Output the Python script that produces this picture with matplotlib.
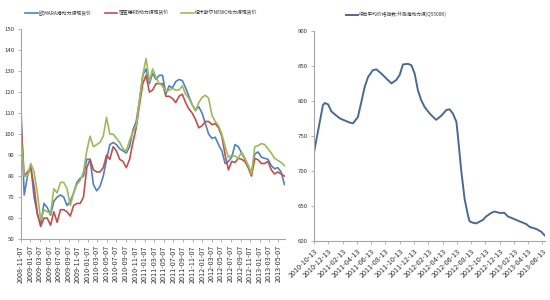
import matplotlib
matplotlib.use("Agg")
import matplotlib.pyplot as plt
import pandas as pd

plt.rcParams['font.family'] = ['Noto Sans CJK SC', 'DejaVu Sans']

# ---------------- Left chart data (3-week sampling) ----------------
left_start = "2008-11-07"
left_count = 81
ara = [113, 71, 80, 85, 70, 62, 57, 67, 65, 61.4, 68, 70, 71, 70, 66, 68, 72, 77, 79, 80,
       88, 88, 76, 73, 75, 80, 88, 95, 96, 95, 93, 92, 91, 94, 102, 106, 116, 128, 131, 124,
       129, 126, 128, 128, 119, 123, 122, 125, 126, 125.5, 122, 118, 114, 111.5, 113, 110, 105, 100, 98, 98.5,
       95, 92, 86, 87, 89, 95, 94, 91, 88, 85, 81, 90.5, 91.5, 89, 88.5, 88, 85, 83.5, 84, 82, 76]
rb = [106, 80, 82, 84, 75, 62, 56, 60, 60, 56.6, 63, 58, 64, 64, 63, 61, 66, 67, 67, 70,
      84, 88, 83, 82, 82, 84, 90, 88, 94, 92, 88, 87, 84, 88, 96, 103, 114, 124, 128, 120,
      121, 124, 124, 124, 118, 118, 117, 115, 118, 119, 115, 112, 110, 107, 103, 104, 106, 106, 104.5, 105,
      103, 99, 90, 83, 87, 86.5, 88.5, 88, 87, 84, 80, 88.4, 87.8, 86, 86, 87, 83, 81, 82, 81, 80]
newc = [99, 80, 80, 86, 82, 72, 59, 64, 63, 62.2, 74, 72, 77, 77, 74, 66, 72, 76, 78, 82,
        92, 99, 94, 95, 96, 99, 108, 100, 100, 98, 96, 93, 92, 97, 101, 104, 116, 128, 136, 125,
        131, 127, 124, 123, 120, 121, 121.7, 121, 121, 123, 119, 117, 114, 111, 115, 117.5, 118.5, 117, 109, 106,
        104, 100, 94, 89, 90, 89.5, 88.5, 91.5, 88.5, 85, 81, 94, 94.5, 95.5, 95, 93, 91, 88.5, 87.5, 86.5, 85]
left_labels = ["欧洲ARA港动力煤现货价", "理查德RB动力煤现货价", "纽卡斯尔NEWC动力煤现货价"]
left_colors = ["#4F81BD", "#C0504D", "#9BBB59"]
left_tick_start, left_tick_end = "2008-11-07", "2013-05-07"

# ---------------- Right chart data ----------------
right_dates = ["2010-10-13", "2010-10-30", "2010-11-20", "2010-11-28", "2010-12-12", "2010-12-26",
               "2011-01-16", "2011-01-31", "2011-02-21", "2011-03-14", "2011-03-28", "2011-04-18",
               "2011-05-03", "2011-05-17", "2011-05-31", "2011-06-21", "2011-07-06", "2011-07-27",
               "2011-08-17", "2011-09-08", "2011-09-29", "2011-10-13", "2011-10-27", "2011-11-17",
               "2011-12-02", "2011-12-16", "2011-12-30", "2012-01-13", "2012-01-28", "2012-02-18",
               "2012-03-10", "2012-03-17", "2012-04-08", "2012-04-29", "2012-05-13", "2012-05-27",
               "2012-06-11", "2012-06-17", "2012-07-02", "2012-07-16", "2012-07-30", "2012-08-06",
               "2012-08-20", "2012-09-04", "2012-10-02", "2012-10-16", "2012-11-07", "2012-11-21",
               "2012-12-12", "2013-01-02", "2013-01-16", "2013-02-07", "2013-03-07", "2013-04-05",
               "2013-04-19", "2013-05-18", "2013-06-08", "2013-06-22"]
bohai = [727, 757, 794, 797, 795, 785,
         779, 775, 772, 769, 768, 777,
         799, 820, 834, 844, 845, 839,
         832, 825, 830, 837, 852, 853,
         851, 839, 815, 801, 791, 782,
         775, 773, 779, 787, 788, 782,
         770, 751, 699, 660, 637, 628,
         626, 625, 630, 635, 640, 642,
         640, 640, 635, 632, 628, 624,
         620, 617, 613, 608]
right_label = "综合平均价格指数:环渤海动力煤(Q5500K)"
right_color = "#4A6A94"
right_tick_start, right_tick_end = "2010-10-13", "2013-06-13"

fig = plt.figure(figsize=(5.5, 3.0), dpi=100)
fig.patch.set_facecolor("white")

def style(ax):
    for s in ("top", "right"):
        ax.spines[s].set_visible(False)
    for s in ("left", "bottom"):
        ax.spines[s].set_color("#A6A6A6")
        ax.spines[s].set_linewidth(0.8)
    ax.tick_params(axis="both", colors="#A6A6A6", labelcolor="#333333",
                   labelsize=4.3, length=2.5, width=0.6, pad=2)
    ax.tick_params(axis="x", labelsize=5.2)

# Left
ax1 = fig.add_axes([0.038, 0.203, 0.480, 0.700])
ldates = pd.date_range(left_start, periods=left_count, freq="21D")
for vals, lab, c in zip([ara, rb, newc], left_labels, left_colors):
    ax1.plot(ldates, vals, color=c, lw=1.2, label=lab)
ax1.set_ylim(50, 150)
ax1.set_yticks(range(50, 151, 10))
lticks = pd.date_range(left_tick_start, left_tick_end, freq=pd.DateOffset(months=2))
ax1.set_xticks(lticks)
ax1.set_xticklabels([d.strftime("%Y-%m-%d") for d in lticks], rotation=90)
ax1.set_xlim(pd.Timestamp(left_start), ldates[-1] + pd.Timedelta(days=3))
style(ax1)
ax1.legend(loc="lower left", bbox_to_anchor=(0.01, 1.055), ncol=3, frameon=False,
           fontsize=3.5, handlelength=2.6, handletextpad=0.2, columnspacing=2.6,
           borderaxespad=0, labelcolor="#333333")

# Right
ax2 = fig.add_axes([0.571, 0.197, 0.420, 0.700])
rdates = pd.to_datetime(right_dates)
ax2.plot(rdates, bohai, color=right_color, lw=1.4, label=right_label)
ax2.set_ylim(600, 900)
ax2.set_yticks(range(600, 901, 50))
rticks = pd.date_range(right_tick_start, right_tick_end, freq=pd.DateOffset(months=2))
ax2.set_xticks(rticks)
ax2.set_xticklabels([d.strftime("%Y-%m-%d") for d in rticks], rotation=45, ha="right",
                    rotation_mode="anchor")
ax2.set_xlim(pd.Timestamp(right_tick_start), pd.Timestamp("2013-06-24"))
style(ax2)
ax2.legend(loc="lower left", bbox_to_anchor=(0.13, 1.055), frameon=False,
           fontsize=3.4, handlelength=2.6, handletextpad=0.2, borderaxespad=0,
           labelcolor="#333333")

fig.savefig("out.png", dpi=100, facecolor="white")
